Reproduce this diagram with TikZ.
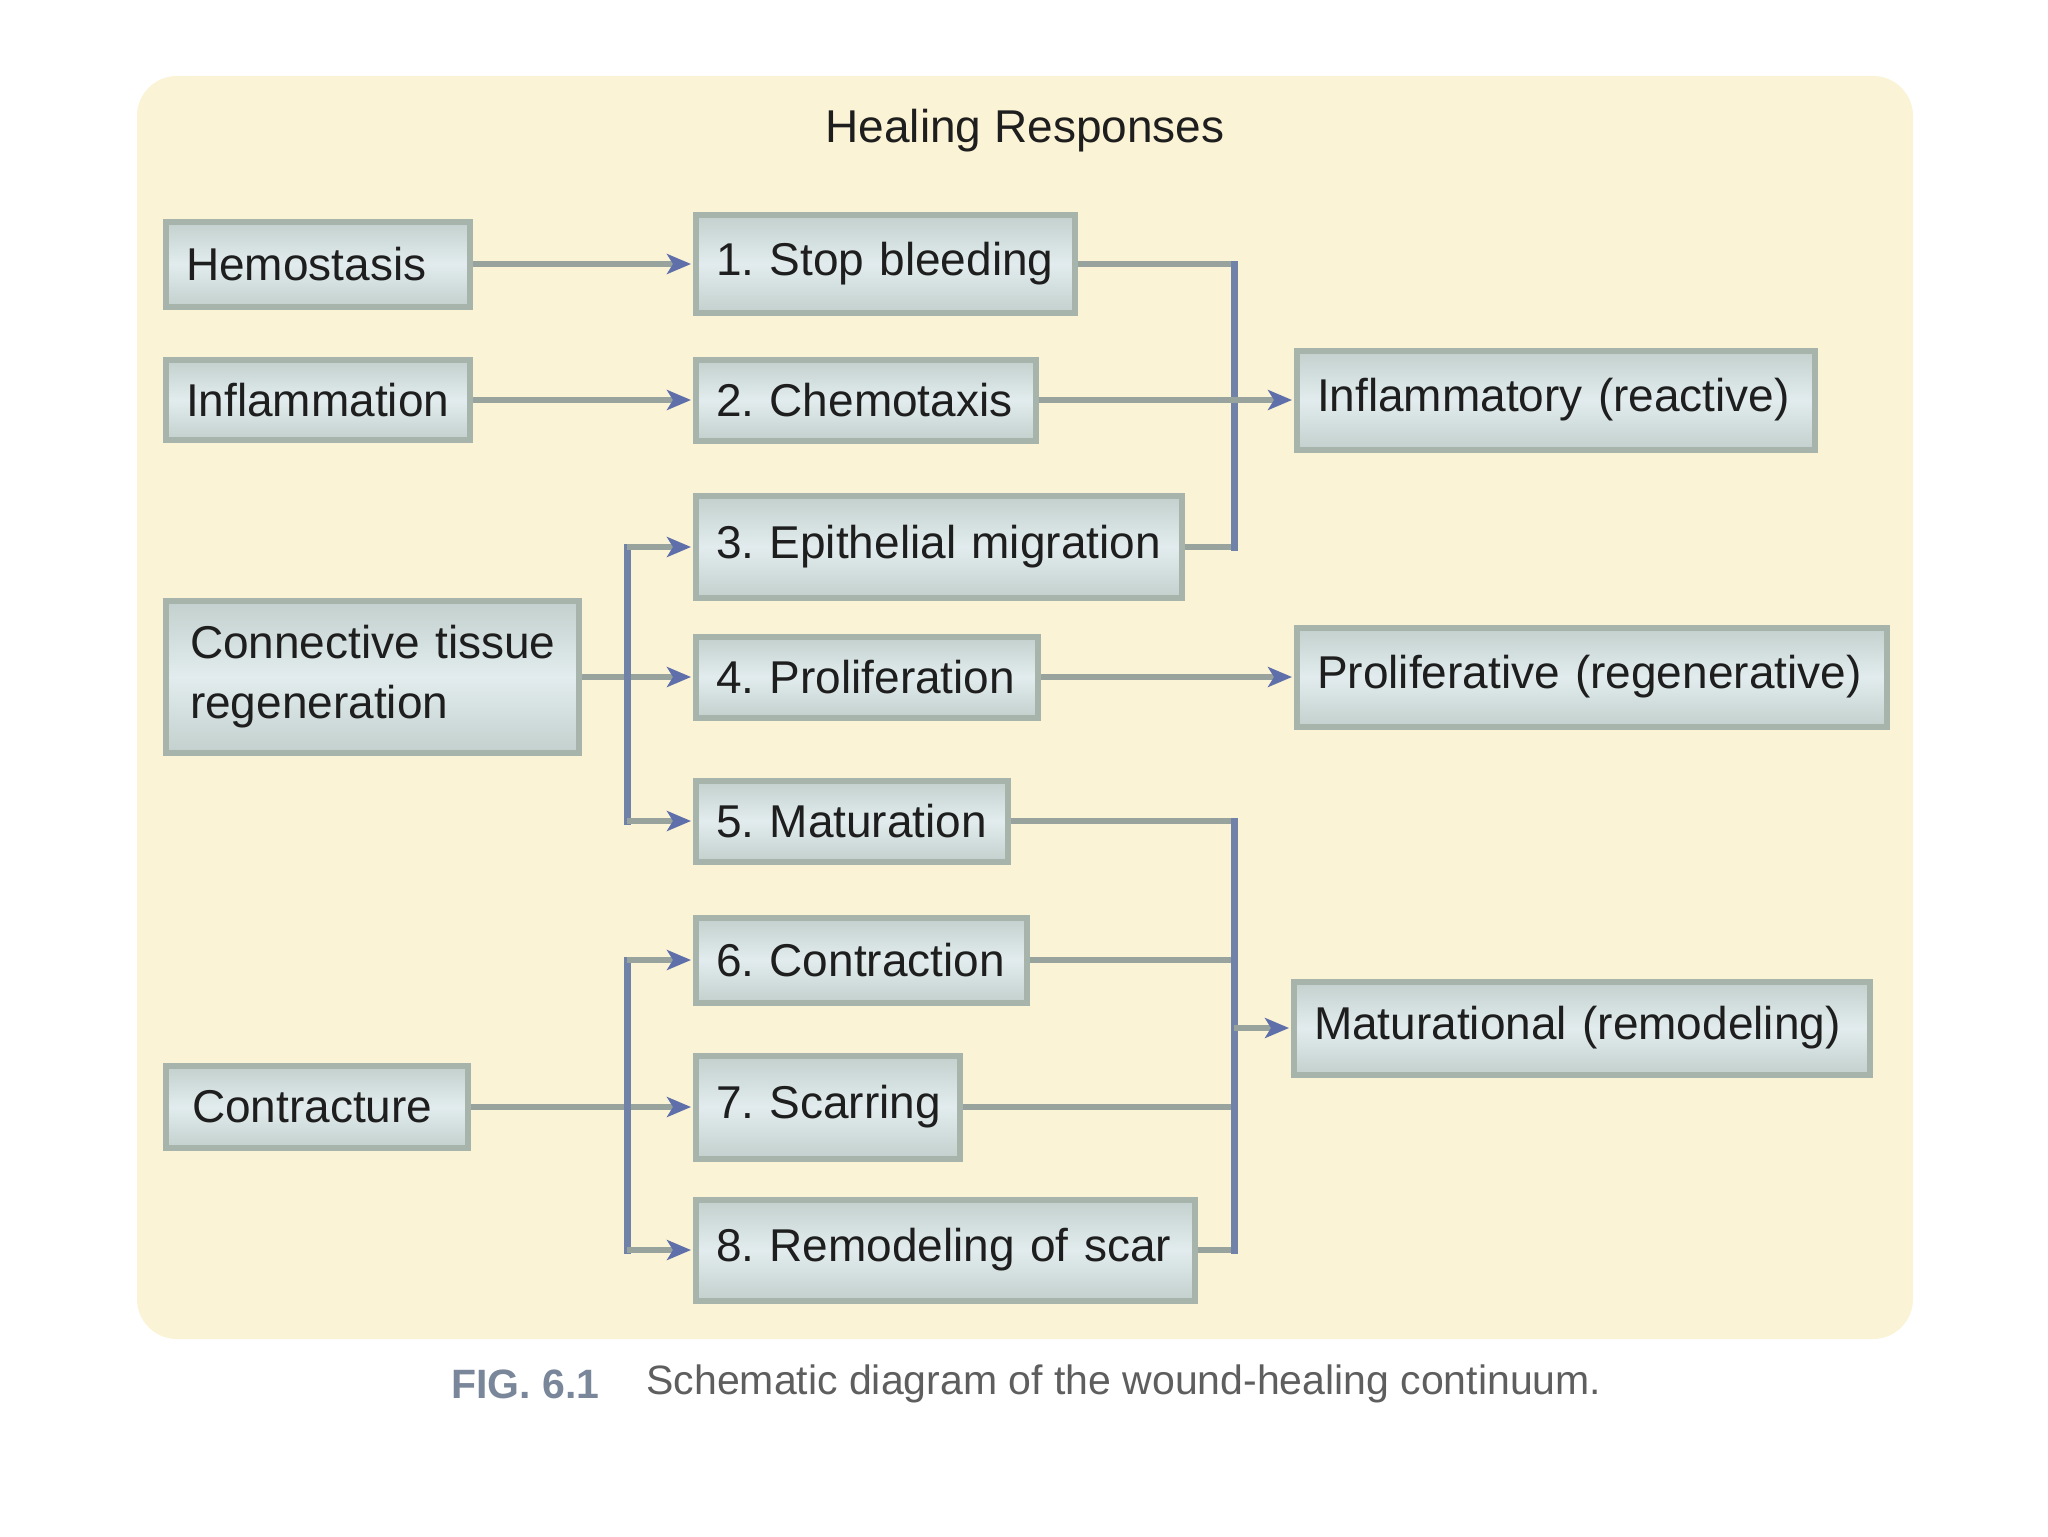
\documentclass[tikz,border=0pt]{standalone}
\usepackage{fontspec}
\setmainfont{Liberation Sans}
\usetikzlibrary{arrows.meta}
\definecolor{panel}{HTML}{FBF3D6}
\definecolor{boxline}{HTML}{A7B4AB}
\definecolor{boxedge}{HTML}{C3D0CD}
\definecolor{boxmid}{HTML}{E2ECEE}
\definecolor{hline}{HTML}{98A39E}
\definecolor{busc}{HTML}{7082A8}
\definecolor{arrc}{HTML}{5E6FAA}
\definecolor{txt}{HTML}{1E1E1E}
\definecolor{figc}{HTML}{7A8699}
\definecolor{capc}{HTML}{5E5E5E}
\frenchspacing
\begin{document}
\begin{tikzpicture}[x=0.5pt,y=-0.5pt,
  bx/.style={draw=boxline, line width=3pt, top color=boxedge, bottom color=boxedge, middle color=boxmid,
    inner xsep=10pt, inner ysep=0pt, align=left, text=txt, font=\fontsize{23}{30}\selectfont},
  hl/.style={draw=hline, line width=3pt},
  bus/.style={draw=busc, line width=3.5pt, line cap=rect},
  arr/.style={draw=hline, line width=3pt, -{Stealth[length=12pt,width=10pt,inset=3pt,color=arrc]}, shorten >=1pt}]
\useasboundingbox (0,0) rectangle (2048,1536);
\fill[white] (0,0) rectangle (2048,1536);
\fill[panel, rounded corners=20pt] (137,76) rectangle (1913,1339);
\node[text=txt, font=\fontsize{23}{28}\selectfont] (title) at (1025,131) {Healing Responses};
% left column
\node[bx, text width=132pt, minimum height=42.5pt] (hemo) at (318,264) {\mbox{Hemostasis}};
\node[bx, text width=132pt, minimum height=40pt] (infl) at (318,400) {\mbox{Inflammation}};
\node[bx, inner xsep=12pt, text width=182.5pt, minimum height=76pt] (conn) at (372.5,677) {\mbox{Connective tissue}\\\mbox{regeneration}};
\node[bx, inner xsep=13pt, text width=125pt, minimum height=41pt] (contr) at (317,1107) {\mbox{Contracture}};
% middle column
\node[bx, text width=169.5pt, minimum height=49pt] (s1) at (885.5,264) {\mbox{1. Stop bleeding}};
\node[bx, text width=150pt, minimum height=40.5pt] (s2) at (866,400) {\mbox{2. Chemotaxis}};
\node[bx, text width=223pt, minimum height=51pt] (s3) at (939,547) {\mbox{3. Epithelial migration}};
\node[bx, text width=151pt, minimum height=40.5pt] (s4) at (867,677) {\mbox{4. Proliferation}};
\node[bx, text width=136pt, minimum height=40.5pt] (s5) at (852,821) {\mbox{5. Maturation}};
\node[bx, text width=145.5pt, minimum height=42.5pt] (s6) at (861.5,960) {\mbox{6. Contraction}};
\node[bx, text width=112pt, minimum height=51.5pt] (s7) at (828,1107) {\mbox{7. Scarring}};
\node[bx, text width=229.5pt, minimum height=50.5pt] (s8) at (945.5,1250) {\mbox{8. Remodeling of scar}};
% right column
\node[bx, text width=239pt, minimum height=49.5pt] (r1) at (1556,400) {\mbox{Inflammatory (reactive)}};
\node[bx, text width=275pt, minimum height=49.5pt] (r2) at (1592,677) {\mbox{Proliferative (regenerative)}};
\node[bx, text width=268pt, minimum height=46.5pt] (r3) at (1582,1028) {\mbox{Maturational (remodeling)}};
% bus positions
\coordinate (busR) at (1234,0);
\coordinate (busL) at (627,0);
% top group
\draw[arr] (hemo.east) -- (s1.west);
\draw[arr] (infl.east) -- (s2.west);
\draw[hl] (s1.east) -- (s1.east -| busR);
\draw[hl] (s3.east) -- (s3.east -| busR);
\draw[bus] (s1.east -| busR) -- (s3.east -| busR);
\draw[arr] (s2.east) -- (r1.west);
% connective tissue group
\draw[arr] (conn.east) -- (s4.west);
\draw[bus] (s3.west -| busL) -- (s5.west -| busL);
\draw[arr] (s3.west -| busL) -- (s3.west);
\draw[arr] (s5.west -| busL) -- (s5.west);
\draw[arr] (s4.east) -- (r2.west);
% maturation group
\draw[hl] (s5.east) -- (s5.east -| busR);
\draw[hl] (s6.east) -- (s6.east -| busR);
\draw[hl] (s7.east) -- (s7.east -| busR);
\draw[hl] (s8.east) -- (s8.east -| busR);
\draw[bus] (s5.east -| busR) -- (s8.east -| busR);
\draw[arr] (r3.west -| busR) -- (r3.west);
% contracture group
\draw[arr] (contr.east) -- (s7.west);
\draw[bus] (s6.west -| busL) -- (s8.west -| busL);
\draw[arr] (s6.west -| busL) -- (s6.west);
\draw[arr] (s8.west -| busL) -- (s8.west);
% caption
\node[anchor=west, inner sep=0pt, text=figc, font=\bfseries\fontsize{20.5}{24}\selectfont] (fig) at (451,1384) {FIG. 6.1};
\node[anchor=west, inner sep=0pt, text=capc, font=\fontsize{20.5}{24}\selectfont] (cap) at (646,1384) {Schematic diagram of the wound-healing continuum.};
\end{tikzpicture}
\end{document}
